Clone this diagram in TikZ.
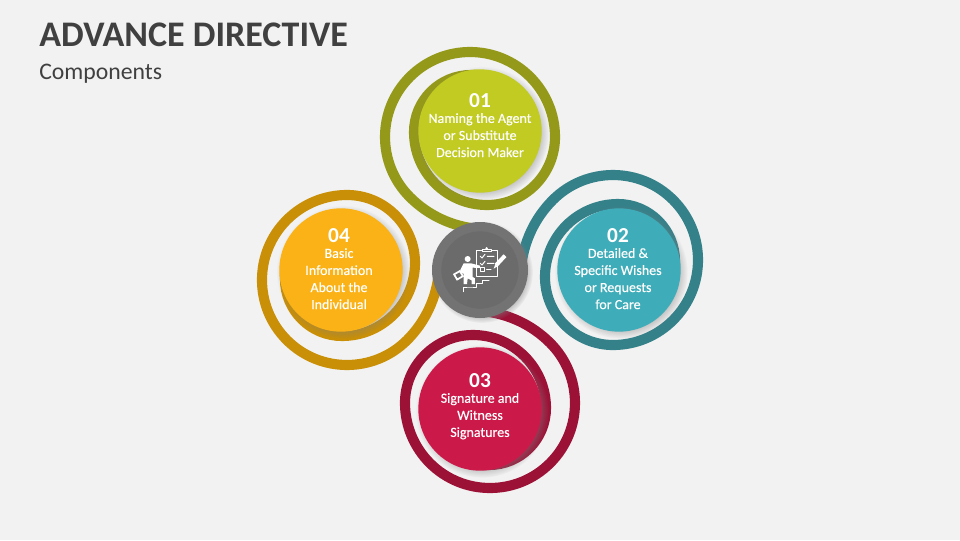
\documentclass[tikz,border=0pt]{standalone}
\usepackage{fontspec}
\setmainfont{Carlito}
\newfontfamily\discfont[FakeBold=0.35]{Carlito}
\usetikzlibrary{shadows}
\definecolor{pagebg}{HTML}{F2F2F2}
\definecolor{titlegray}{HTML}{404040}
\definecolor{olivering}{HTML}{95991A}
\definecolor{olivedisc}{HTML}{C1CB22}
\definecolor{tealring}{HTML}{35818A}
\definecolor{tealdisc}{HTML}{3EADB9}
\definecolor{redring}{HTML}{9C1237}
\definecolor{reddisc}{HTML}{CB1A4A}
\definecolor{amberring}{HTML}{C98F06}
\definecolor{amberdisc}{HTML}{FBB216}
\newcommand{\spiralring}[1]{(hubc) -- (-1.9,41.1) arc[start angle=-95,end angle=-135,radius=110]
  arc[start angle=-135,end angle=-360,radius=85] arc[start angle=0,end angle=-90,radius=68]
  arc[start angle=-90,end angle=-180,radius=73] arc[start angle=180,end angle=90,radius=57] -- (#1)}
\newcommand{\numfont}{\fontsize{16}{16}\selectfont\normalfont\bfseries}
\begin{document}
\begin{tikzpicture}[x=0.75pt, y=0.75pt,
  ring/.style = {line width=7.6pt},
  disc/.style = {circle, minimum size=92.5pt, inner sep=0pt, circular drop shadow={shadow scale=1.08, opacity=0.45}},
  txt/.style = {text=white, align=center, font=\fontsize{10.5}{12.8}\selectfont\discfont},
  icon/.style = {draw=white, line width=0.75pt, line cap=round, line join=round}]
\path[use as bounding box, fill=pagebg] (-480,-270) rectangle (480,270);
\coordinate (hubc) at (0,0);
\coordinate (c1) at (0,139);
\coordinate (c2) at (139,0);
\coordinate (c3) at (0,-139);
\coordinate (c4) at (-139,0);
\draw[ring, olivering] \spiralring{c1};
\draw[ring, tealring, rotate=-90] \spiralring{c2};
\draw[ring, redring, rotate=-180] \spiralring{c3};
\draw[ring, amberring, rotate=-270] \spiralring{c4};
\node[disc, fill=olivedisc] (disc1) at (c1) {};
\node[disc, fill=tealdisc] (disc2) at (c2) {};
\node[disc, fill=reddisc] (disc3) at (c3) {};
\node[disc, fill=amberdisc] (disc4) at (c4) {};
\node[txt] (txt1) at (0,144.5) {{\numfont 01}\\[-1.5pt]Naming the Agent\\or Substitute\\Decision Maker};
\node[txt] (txt2) at (138,1) {{\numfont 02}\\[-1.5pt]Detailed \&\\Specific Wishes\\or Requests\\for Care};
\node[txt] (txt3) at (0,-136.5) {{\numfont 03}\\[-1.5pt]Signature and\\Witness\\Signatures};
\node[txt] (txt4) at (-141,1) {{\numfont 04}\\[-1.5pt]Basic\\Information\\About the\\Individual};
\node[circle, minimum size=72pt, inner sep=0pt, fill=black!55, circular drop shadow={shadow scale=1.06, opacity=0.5}] (hub) at (hubc) {};
\node[circle, minimum size=58pt, inner sep=0pt, fill=black!58] (hubin) at (hubc) {};
% icon
\begin{scope}[shift={(-55,55)}, x=0.25pt, y=-0.25pt]
\draw[icon] (172,107) -- (155,107) -- (155,185) -- (218,185) -- (218,152);
\draw[icon] (198,107) -- (218,107) -- (218,138);
\draw[icon, fill=black!58] (173,110) rectangle (198,102);
\fill[white] (185,100) circle (4);
\draw[icon] (166,124) -- (171,129) -- (180,118) (187,124) -- (207,124);
\draw[icon] (166,145) -- (171,150) -- (180,139) (187,145) -- (207,145);
\draw[icon] (167,157) rectangle (178,168) (185,163) -- (198,163);
\draw[white, line width=3pt] (240,122) -- (214,150);
\fill[white] (206,161) -- (211,147) -- (218,154) -- cycle;
\fill[white] (128,132) circle (9);
\fill[white] (116,145) -- (138,145) -- (165,152) -- (165,159) -- (143,158) -- (143,186) -- (150,190) -- (150,207) -- (140,207) -- (140,196) -- (128,190) -- (126,207) -- (116,207) -- (116,176) -- (108,174) -- (106,165) -- cycle;
\draw[white, line width=1.3pt, fill=black!58, rotate around={30:(100,180)}] (90,172) rectangle (110,190);
\draw[icon] (115,230) -- (115,216) -- (135,216) -- (154,216) -- (154,206) -- (172,206) -- (172,196) -- (192,196);
\end{scope}
\node[anchor=west, inner sep=0pt, text=titlegray, font=\fontsize{27}{27}\selectfont\bfseries] (title) at (-441,235) {ADVANCE DIRECTIVE};
\node[anchor=west, inner sep=0pt, text=titlegray, font=\fontsize{17.8}{17.8}\selectfont] (subtitle) at (-441,196) {Components};
\end{tikzpicture}
\end{document}
